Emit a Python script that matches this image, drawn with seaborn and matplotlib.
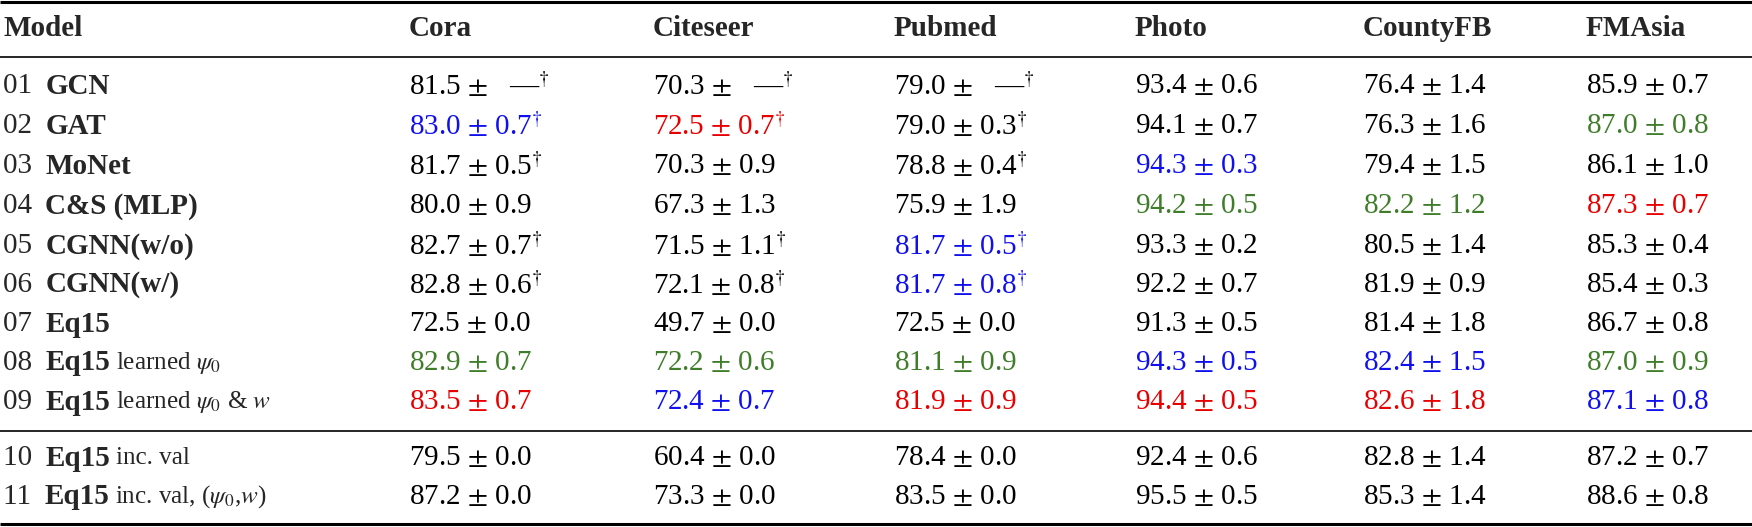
import numpy as np
import pandas as pd
import matplotlib
matplotlib.use("Agg")
import matplotlib.pyplot as plt
import seaborn as sns

# ---------------- data ----------------
datasets = ["Cora", "Citeseer", "Pubmed", "Photo", "CountyFB", "FMAsia"]
model_ids = ["01", "02", "03", "04", "05", "06", "07", "08", "09", "10", "11"]
model_names = ["GCN", "GAT", "MoNet", "C&S (MLP)", "CGNN(w/o)", "CGNN(w/)",
               "Eq15", "Eq15", "Eq15", "Eq15", "Eq15"]
model_notes = ["", "", "", "", "", "", "",
               r"learned $\psi_0$",
               r"learned $\psi_0$ & $w$",
               "inc. val",
               r"inc. val, ($\psi_0$,$w$)"]
means = [
    [81.5, 70.3, 79.0, 93.4, 76.4, 85.9],
    [83.0, 72.5, 79.0, 94.1, 76.3, 87.0],
    [81.7, 70.3, 78.8, 94.3, 79.4, 86.1],
    [80.0, 67.3, 75.9, 94.2, 82.2, 87.3],
    [82.7, 71.5, 81.7, 93.3, 80.5, 85.3],
    [82.8, 72.1, 81.7, 92.2, 81.9, 85.4],
    [72.5, 49.7, 72.5, 91.3, 81.4, 86.7],
    [82.9, 72.2, 81.1, 94.3, 82.4, 87.0],
    [83.5, 72.4, 81.9, 94.4, 82.6, 87.1],
    [79.5, 60.4, 78.4, 92.4, 82.8, 87.2],
    [87.2, 73.3, 83.5, 95.5, 85.3, 88.6],
]
stds = [
    [None, None, None, 0.6, 1.4, 0.7],
    [0.7, 0.7, 0.3, 0.7, 1.6, 0.8],
    [0.5, 0.9, 0.4, 0.3, 1.5, 1.0],
    [0.9, 1.3, 1.9, 0.5, 1.2, 0.7],
    [0.7, 1.1, 0.5, 0.2, 1.4, 0.4],
    [0.6, 0.8, 0.8, 0.7, 0.9, 0.3],
    [0.0, 0.0, 0.0, 0.5, 1.8, 0.8],
    [0.7, 0.6, 0.9, 0.5, 1.5, 0.9],
    [0.7, 0.7, 0.9, 0.5, 1.8, 0.8],
    [0.0, 0.0, 0.0, 0.6, 1.4, 0.7],
    [0.0, 0.0, 0.0, 0.5, 1.4, 0.8],
]
dagger = [
    [1, 1, 1, 0, 0, 0],
    [1, 1, 1, 0, 0, 0],
    [1, 0, 1, 0, 0, 0],
    [0, 0, 0, 0, 0, 0],
    [1, 1, 1, 0, 0, 0],
    [1, 1, 1, 0, 0, 0],
    [0, 0, 0, 0, 0, 0],
    [0, 0, 0, 0, 0, 0],
    [0, 0, 0, 0, 0, 0],
    [0, 0, 0, 0, 0, 0],
    [0, 0, 0, 0, 0, 0],
]
# k = black, r = best, b = second, g = third
rank = [
    "kkkkkk",
    "brkkkg",
    "kkkbkk",
    "kkkggr",
    "kkbkkk",
    "kkbkkk",
    "kkkkkk",
    "gggbbg",
    "rbrrrb",
    "kkkkkk",
    "kkkkkk",
]

COLORS = {"k": "black", "r": "#e80000", "b": "#1010ee", "g": "#3f7d2a"}

# ---------------- style ----------------
sns.set_theme(style="white")
plt.rcParams["font.family"] = ["Liberation Serif", "DejaVu Serif"]
plt.rcParams["mathtext.fontset"] = "stix"

W, H = 1752, 527
fig = plt.figure(figsize=(W / 100, H / 100), dpi=100)
ax = fig.add_axes([0, 0, 1, 1])
ax.set_xlim(0, W)
ax.set_ylim(H, 0)
ax.axis("off")
renderer = fig.canvas.get_renderer()

FS = 21
col_x = [409, 653, 894, 1135, 1363, 1586]
row_y = [86, 126, 166, 206, 246, 285, 324, 363, 402, 458, 497]

# rules
for y, lw in [(2, 2.2), (57, 1.2), (431, 1.2), (524, 2.2)]:
    ax.plot([0, W], [y, y], color="black", lw=lw, solid_capstyle="butt")

ax.text(3, 29, "Model", fontsize=FS, fontweight="bold", va="center")
for x, name in zip(col_x, datasets):
    ax.text(x, 29, name, fontsize=FS, fontweight="bold", va="center")


def right_edge(t):
    bb = t.get_window_extent(renderer)
    return ax.transData.inverted().transform((bb.x1, bb.y0))[0]


for i in range(len(model_ids)):
    y = row_y[i]
    t = ax.text(3, y, model_ids[i] + " ", fontsize=FS, va="center")
    x = right_edge(t) + 6
    t = ax.text(x, y, model_names[i], fontsize=FS, fontweight="bold", va="center")
    if model_notes[i]:
        ax.text(right_edge(t) + 6, y, model_notes[i], fontsize=FS * 0.86, va="center")
    for j, cx in enumerate(col_x):
        s = stds[i][j]
        txt = f"{means[i][j]:.1f} $\\pm$ " + ("  \u2014" if s is None else f"{s:.1f}")
        if dagger[i][j]:
            txt += r"$^{\dagger}$"
        ax.text(cx, y, txt, fontsize=FS, va="center", color=COLORS[rank[i][j]])

fig.savefig("out.png", dpi=100)
